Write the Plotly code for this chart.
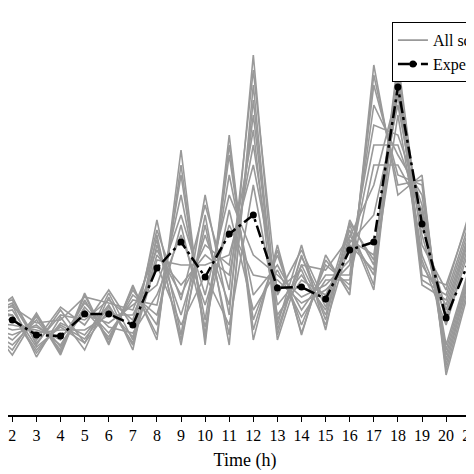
import plotly.graph_objects as go

hours = list(range(1, 22))
tick_labels = [str(h) for h in hours]

expected = [97, 95, 80, 79, 101, 101, 90, 147, 173, 138, 181, 200, 127, 128, 116, 165, 173, 328, 191, 97, 157]

scenarios = [
    [100, 118,  70, 105,  72, 122,  75, 195,  80, 220, 100, 360,  90, 170,  85, 195, 150, 350, 140, 130, 200],
    [ 90,  60, 100,  60, 120,  70, 130,  75, 265,  70, 280,  75, 170,  80, 160, 120, 350, 220, 240,  40, 130],
    [ 95, 110,  58,  98,  65, 118,  65, 180,  70, 200,  70, 330,  80, 160,  95, 190, 130, 340, 135, 120, 195],
    [ 85,  70,  95,  65, 115,  75, 125,  90, 240,  80, 260,  95, 160,  90, 150, 130, 330, 240, 230,  50, 140],
    [105, 100,  62,  92,  80, 110,  70, 170, 100, 180, 110, 300,  95, 150, 100, 180, 140, 330, 150, 110, 185],
    [ 88,  80,  90,  70, 108,  82, 115, 110, 220,  95, 240, 120, 150, 105, 140, 140, 310, 260, 220,  60, 145],
    [100, 105,  68,  88,  72, 105,  78, 160, 130, 160, 140, 270, 110, 140, 105, 175, 160, 320, 160, 100, 180],
    [ 92,  90,  85,  78, 100,  92, 110, 130, 200, 120, 220, 160, 140, 118, 130, 155, 290, 280, 210,  70, 150],
    [110, 115,  75, 108,  90, 125,  88, 185, 115, 210, 125, 345, 120, 165, 112, 192, 155, 355, 170, 125, 205],
    [ 86,  65, 102,  62, 122,  72, 128,  80, 250,  75, 270,  85, 165,  82, 155, 125, 340, 230, 235,  45, 135],
    [ 98,  95,  82,  85,  85, 100, 100, 150,  90, 140,  90, 230, 100, 135, 120, 170, 145, 300, 155,  90, 170],
    [ 94,  85,  88,  75, 112,  88,  82, 120, 180, 110, 190, 140, 135, 112, 125, 150, 270, 270, 200,  65, 148],
    [102, 112,  72, 100,  95, 115,  95, 175,  75, 190,  80, 315,  85, 158, 108, 185, 125, 335, 130, 115, 190],
    [ 90,  75,  98,  68, 105,  78, 120, 100, 190,  88, 205, 105, 145,  98, 135, 135, 250, 250, 205,  55, 142],
    [ 96, 100,  65,  90,  76, 108,  72, 155, 150, 150, 160, 250, 125, 145,  90, 172, 200, 310, 180,  95, 175],
    [108, 108,  92,  95, 118, 112, 105, 165, 120, 170, 150, 285,  75, 150, 145, 178, 230, 325, 190, 105, 182],
]

fig = go.Figure()
for i, s in enumerate(scenarios):
    fig.add_trace(go.Scatter(x=hours, y=s, mode="lines", line=dict(color="#999999", width=1.6),
                             name="All scenarios", showlegend=(i == 0), legendgroup="a"))
fig.add_trace(go.Scatter(x=hours, y=expected, mode="lines+markers", name="Expected",
                         line=dict(color="black", width=2.5, dash="12px,4px,3px,4px"),
                         marker=dict(symbol="circle", size=7, color="black")))

fig.update_layout(
    width=474, height=474, margin=dict(l=0, r=0, t=0, b=67, autoexpand=False),
    plot_bgcolor="white", paper_bgcolor="white",
    font=dict(family="Liberation Serif", size=16, color="black"),
    legend=dict(x=0.81, y=0.965, xanchor="left", yanchor="top", bgcolor="white",
                bordercolor="black", borderwidth=1, font=dict(size=16), tracegroupgap=0),
    xaxis=dict(range=[1.82, 21.49], tickmode="array", tickvals=hours, ticktext=tick_labels,
               showline=True, linecolor="black", linewidth=1.5, ticks="outside", ticklen=5,
               tickcolor="black", showgrid=False, zeroline=False, automargin=False,
               title=dict(text="Time (h)", font=dict(size=18), standoff=10)),
    yaxis=dict(range=[0, 407], visible=False, showgrid=False),
)
fig.write_html("out.html")
